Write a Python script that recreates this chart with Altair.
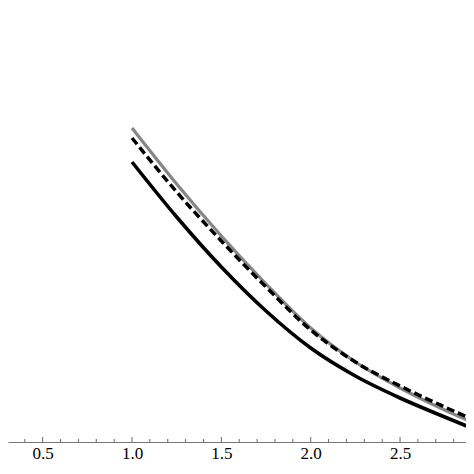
import altair as alt
import pandas as pd

# x positions
xs = [1.0, 1.25, 1.5, 1.75, 2.0, 2.25, 2.5, 2.75, 2.9]
# curve heights above the axis (arbitrary units)
gray_vals = [3.14, 2.58, 2.06, 1.58, 1.14, 0.80, 0.54, 0.32, 0.20]
dashed_vals = [3.04, 2.50, 2.01, 1.55, 1.12, 0.80, 0.56, 0.35, 0.23]
black_vals = [2.80, 2.25, 1.75, 1.31, 0.94, 0.66, 0.44, 0.25, 0.14]

major_ticks = [0.5, 1.0, 1.5, 2.0, 2.5]
minor_ticks = [0.4, 0.6, 0.7, 0.8, 0.9, 1.1, 1.2, 1.3, 1.4, 1.6, 1.7, 1.8, 1.9,
               2.1, 2.2, 2.3, 2.4, 2.6, 2.7, 2.8]

W, H = 458, 434
xdom = [0.306, 2.869]
ydom = [0, 4.34]

def frame(vals):
    return pd.DataFrame({"x": xs, "y": vals})

xscale = alt.Scale(domain=xdom, nice=False, zero=False)
yscale = alt.Scale(domain=ydom, nice=False, zero=True)

xaxis = alt.Axis(values=major_ticks, format=".1f", ticks=False, tickSize=0,
                 grid=False, domainColor="#777777", domainWidth=1,
                 labelFont="Liberation Serif", labelFontSize=17,
                 labelColor="black", labelPadding=3, title=None)

def curve(vals, color, width, dash=None):
    kw = dict(color=color, strokeWidth=width, interpolate="monotone", clip=True)
    if dash:
        kw["strokeDash"] = dash
    return alt.Chart(frame(vals)).mark_line(**kw).encode(
        x=alt.X("x:Q", scale=xscale, axis=xaxis),
        y=alt.Y("y:Q", scale=yscale, axis=None),
    )

gray = curve(gray_vals, "#868686", 3.2)
dashed = curve(dashed_vals, "black", 3.5, [8, 4])
black = curve(black_vals, "black", 3.6)

major = alt.Chart(pd.DataFrame({"t": major_ticks})).mark_rule(
    color="#666666", strokeWidth=1).encode(
    x=alt.X("t:Q", scale=xscale, axis=xaxis),
    y=alt.value(H), y2=alt.value(H - 5))
minor = alt.Chart(pd.DataFrame({"t": minor_ticks})).mark_rule(
    color="#666666", strokeWidth=1, clip=True).encode(
    x=alt.X("t:Q", scale=xscale, axis=xaxis),
    y=alt.value(H), y2=alt.value(H - 3))

chart = alt.layer(minor, major, gray, black, dashed).properties(
    width=W, height=H,
    padding={"left": 0, "top": 0, "right": 0, "bottom": 0},
    background="white"
).configure_view(stroke=None)

chart.save("out.html", embed_options={"renderer": "svg", "actions": False})
